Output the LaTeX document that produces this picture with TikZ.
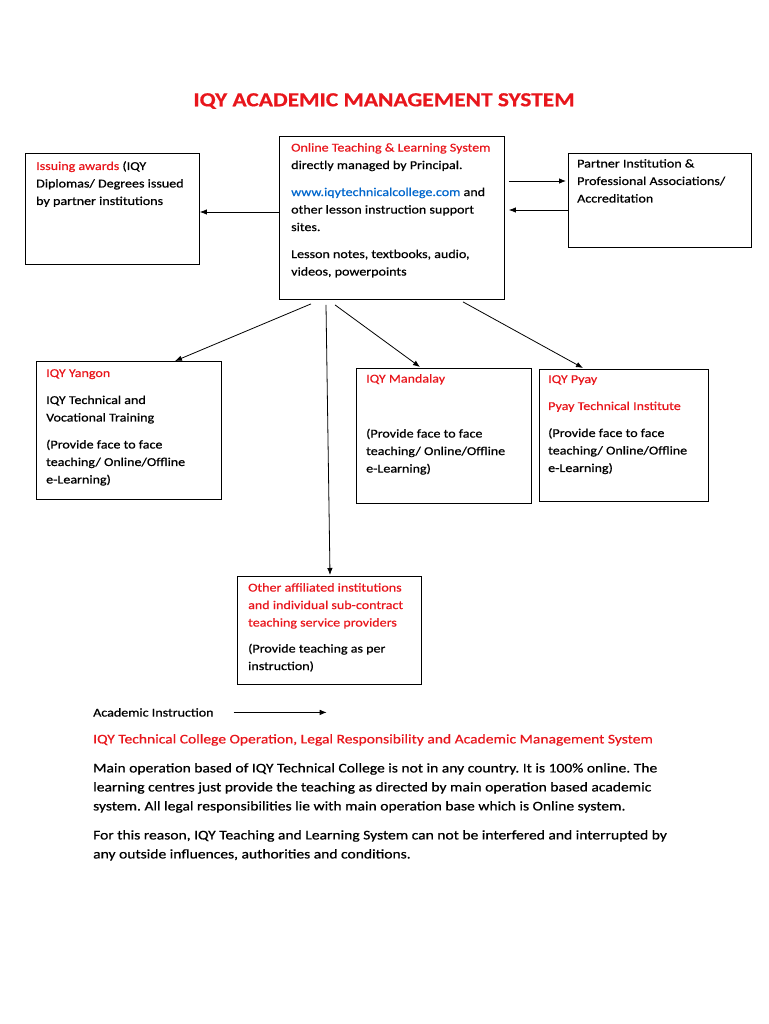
\documentclass[tikz,border=0pt]{standalone}
\usepackage{fontspec}
\setmainfont[FakeStretch=1.17,FakeBold=0.6]{Carlito}
\usetikzlibrary{positioning,arrows.meta}
\definecolor{iqyred}{RGB}{232,22,28}
\definecolor{iqyblue}{RGB}{0,102,204}
\frenchspacing

\begin{document}
\begin{tikzpicture}
  [x=1pt,y=-1pt,
   box/.style={draw,line width=0.9pt,rectangle,anchor=north west,inner sep=0pt},
   txt/.style={anchor=north west,align=left,inner sep=0pt,font=\fontsize{12}{17.5}\selectfont},
   arr/.style={-{Latex[length=7pt,width=5.5pt]},line width=0.8pt},
   hi/.style={text=iqyred}]
  \useasboundingbox (0,0) rectangle (768,1024);

  \node[font=\fontsize{20}{24}\selectfont\bfseries,text=iqyred] (title) at (384,101) {IQY ACADEMIC MANAGEMENT SYSTEM};

  % boxes
  \node[box,minimum width=174pt,minimum height=111pt] (awards) at (25,153) {};
  \node[box,minimum width=225pt,minimum height=163pt] (online) at (279,136) {};
  \node[box,minimum width=183pt,minimum height=94pt] (partner) at (568,153) {};
  \node[box,minimum width=185pt,minimum height=138pt] (yangon) at (36,361) {};
  \node[box,minimum width=175pt,minimum height=135pt] (mandalay) at (356,368) {};
  \node[box,minimum width=169pt,minimum height=132pt] (pyay) at (539,369) {};
  \node[box,minimum width=184pt,minimum height=108pt] (other) at (237,576) {};

  % box texts
  \node[txt] (awardstxt) at (36,161) {\textcolor{iqyred}{Issuing awards} (IQY\\Diplomas/ Degrees issued\\by partner institutions};
  \node[txt] (onlinetxt) at (291,143) {\textcolor{iqyred}{Online Teaching \& Learning System}\\directly managed by Principal.\\[9.5pt]
    \textcolor{iqyblue}{www.iqytechnicalcollege.com} and\\other lesson instruction support\\sites.\\[9.5pt]
    Lesson notes, textbooks, audio,\\videos, powerpoints};
  \node[txt] (partnertxt) at (577,159) {Partner Institution \&\\Professional Associations/\\Accreditation};
  \node[txt] (yangontxt) at (46,369) {\textcolor{iqyred}{IQY Yangon}\\[9.5pt]
    IQY Technical and\\Vocational Training\\[9.5pt]
    (Provide face to face\\teaching/ Online/Offline\\e-Learning)};
  \node[txt] (mandalaytxt) at (366,374) {\textcolor{iqyred}{IQY Mandalay}\\[37.5pt]
    (Provide face to face\\teaching/ Online/Offline\\e-Learning)};
  \node[txt] (pyaytxt) at (548,375) {\textcolor{iqyred}{IQY Pyay}\\[9.5pt]
    \textcolor{iqyred}{Pyay Technical Institute}\\[9.5pt]
    (Provide face to face\\teaching/ Online/Offline\\e-Learning)};
  \node[txt,text=iqyred] (othertxt) at (248,583) {Other affiliated institutions\\and individual sub-contract\\teaching service providers\\[8.5pt]
    \textcolor{black}{(Provide teaching as per}\\\textcolor{black}{instruction)}};

  % connectors
  \draw[arr] ([yshift=-76pt]online.north west) -- ([yshift=-59pt]awards.north east);
  \draw[arr] ([xshift=4pt,yshift=-45pt]online.north east) -- ([xshift=-2pt,yshift=-28pt]partner.north west);
  \draw[arr] ([yshift=-57pt]partner.north west) -- ([xshift=4pt,yshift=-74pt]online.north east);
  \draw[arr] ([xshift=32pt,yshift=-4pt]online.south west) -- ([xshift=139pt]yangon.north west);
  \draw[arr] ([xshift=47pt,yshift=-5pt]online.south west) -- ([xshift=93pt,yshift=1pt]other.north west);
  \draw[arr] ([xshift=56pt,yshift=-5pt]online.south west) -- ([xshift=64pt,yshift=1pt]mandalay.north west);
  \draw[arr] ([xshift=184pt,yshift=-2pt]online.south west) -- ([xshift=44pt,yshift=1pt]pyay.north west);

  % legend
  \node[txt] (legend) at (93,708) {Academic Instruction};
  \coordinate[right=113pt of legend.east] (legendend);
  \draw[arr] ([xshift=20pt]legend.east) -- (legendend);

  % notes
  \node[txt,font=\fontsize{13.3}{19}\selectfont,text=iqyred] (heading) at (93,734) {IQY Technical College Operation, Legal Responsibility and Academic Management System};
  \node[txt,font=\fontsize{13.3}{19}\selectfont] (para1) at (93,763) {Main operation based of IQY Technical College is not in any country. It is 100\% online. The\\learning centres just provide the teaching as directed by main operation based academic\\system. All legal responsibilities lie with main operation base which is Online system.};
  \node[txt,font=\fontsize{13.3}{19}\selectfont] (para2) at (93,830) {For this reason, IQY Teaching and Learning System can not be interfered and interrupted by\\any outside influences, authorities and conditions.};
\end{tikzpicture}
\end{document}
